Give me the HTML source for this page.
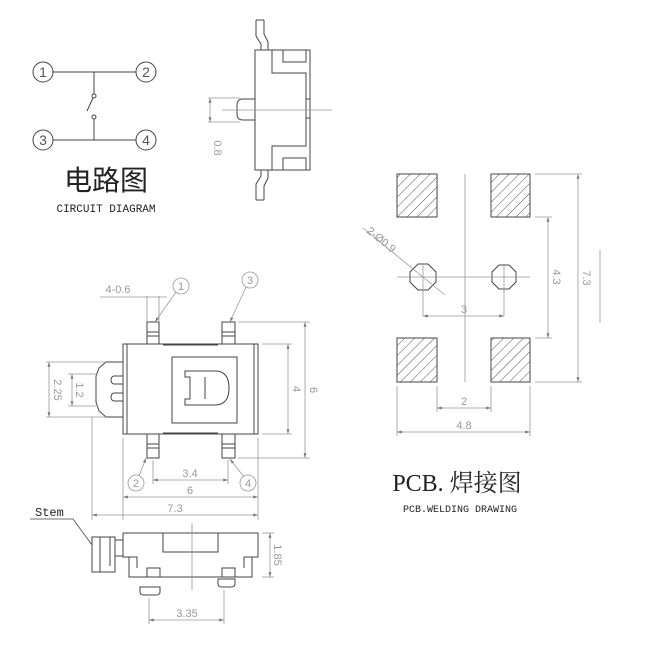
<!DOCTYPE html>
<html><head><meta charset="utf-8"><style>
html,body{margin:0;padding:0;background:#fff;}
svg{display:block}
.m{stroke:#444;stroke-width:1;fill:none}
.d{stroke:#999;stroke-width:.8;fill:none}
.t{font-family:"Liberation Sans",sans-serif;fill:#999;font-size:11px}
</style></head><body>
<svg width="650" height="650" viewBox="0 0 650 650" xmlns="http://www.w3.org/2000/svg">
<defs>
<pattern id="h" width="7" height="7" patternUnits="userSpaceOnUse" patternTransform="rotate(45)">
<line x1="0" y1="0" x2="0" y2="7" stroke="#555" stroke-width="1"/></pattern>
<marker id="a" viewBox="0 0 10 10" refX="10" refY="5" markerWidth="6" markerHeight="6" orient="auto-start-reverse"><path d="M0,2 L10,5 L0,8z" fill="#777"/></marker>
</defs>
<!-- circuit -->
<g class="m">
<circle cx="43" cy="72" r="10"/><circle cx="146" cy="72" r="10"/>
<circle cx="43" cy="140" r="10"/><circle cx="146" cy="140" r="10"/>
<line x1="53" y1="72" x2="136" y2="72"/><line x1="53" y1="140" x2="136" y2="140"/>
<line x1="94" y1="72" x2="94" y2="94"/><circle cx="94" cy="96" r="2"/>
<line x1="93" y1="98" x2="87" y2="111"/><circle cx="94" cy="117" r="2"/>
<line x1="94" y1="119" x2="94" y2="140"/>
</g>
<g font-family="Liberation Sans,sans-serif" font-size="14" fill="#555" text-anchor="middle">
<text x="43" y="77">1</text><text x="146" y="77">2</text><text x="43" y="145">3</text><text x="146" y="145">4</text>
</g>
<text x="106" y="190" font-family="'Noto Sans CJK SC',sans-serif" font-size="28" fill="#222" text-anchor="middle">电路图</text>
<text x="106" y="212" font-family="'Liberation Mono',monospace" font-size="11" fill="#222" text-anchor="middle">CIRCUIT DIAGRAM</text>
<!-- side view top -->
<g class="m">
<rect x="255" y="50" width="55" height="120"/>
<polyline points="272,50 272,73 306,73 306,146 272,146 272,170"/>
<rect x="283" y="50" width="23" height="12"/><rect x="283" y="158" width="23" height="12"/>
<line x1="306" y1="99" x2="310" y2="99"/><line x1="306" y1="118" x2="310" y2="118"/>
<polyline points="256,20 256,36 261,44 261,50"/><polyline points="264,20 264,34 268,42 268,50"/>
<line x1="256" y1="20" x2="264" y2="20"/>
<polyline points="256,200 256,184 261,176 261,170"/><polyline points="264,200 264,186 268,178 268,170"/>
<line x1="256" y1="200" x2="264" y2="200"/>
<path d="M255,99 H243 Q237,99 237,105 V114 Q237,120 243,120 H255"/>
</g>
<line class="d" x1="222" y1="110" x2="332" y2="110"/>
<line class="d" x1="208" y1="98" x2="240" y2="98"/><line class="d" x1="208" y1="122" x2="240" y2="122"/>
<line class="d" x1="210" y1="98" x2="210" y2="122" marker-start="url(#a)" marker-end="url(#a)"/>
<text class="t" transform="translate(214,148) rotate(90)" text-anchor="middle">0.8</text>
<!-- top view -->
<g class="m">
<rect x="123" y="344" width="135" height="90"/>
<rect x="172" y="357" width="65" height="66"/>
<path d="M185,371 H215 Q229,371 229,388 Q229,405 215,405 H185 V399 H190 V377 H185Z"/>
<line x1="205" y1="377" x2="205" y2="399"/>
<line x1="127" y1="344" x2="127" y2="434"/><line x1="254" y1="344" x2="254" y2="434"/>
<line x1="163" y1="345" x2="218" y2="345"/><line x1="163" y1="433" x2="218" y2="433"/>
<rect x="147" y="322" width="12" height="22"/><rect x="222" y="322" width="13" height="22"/>
<rect x="147" y="434" width="12" height="24"/><rect x="222" y="434" width="13" height="24"/>
<line x1="147" y1="332" x2="159" y2="332"/><line x1="147" y1="336" x2="159" y2="336"/>
<line x1="222" y1="332" x2="235" y2="332"/><line x1="222" y1="336" x2="235" y2="336"/>
<line x1="147" y1="444" x2="159" y2="444"/><line x1="147" y1="448" x2="159" y2="448"/>
<line x1="222" y1="444" x2="235" y2="444"/><line x1="222" y1="448" x2="235" y2="448"/>
<path d="M123,362 H106 L99,368 L96,376 V402 L99,411 L106,417 H123"/>
<path d="M123,376 H114 A3,4 0 0 0 114,384 H123"/><path d="M123,393 H114 A3,4 0 0 0 114,401 H123"/>
</g>
<!-- top view dims -->
<g class="d">
<line x1="147" y1="322" x2="147" y2="296"/><line x1="159" y1="322" x2="159" y2="296"/>
<line x1="100" y1="297" x2="167" y2="297"/>
<line x1="238" y1="322" x2="310" y2="322"/><line x1="238" y1="458" x2="310" y2="458"/>
<line x1="262" y1="344" x2="292" y2="344"/><line x1="262" y1="434" x2="292" y2="434"/>
<line x1="288" y1="344" x2="288" y2="434" marker-start="url(#a)" marker-end="url(#a)"/>
<line x1="305" y1="322" x2="305" y2="458" marker-start="url(#a)" marker-end="url(#a)"/>
<line x1="46" y1="362" x2="106" y2="362"/><line x1="46" y1="417" x2="106" y2="417"/>
<line x1="49" y1="362" x2="49" y2="417" marker-start="url(#a)" marker-end="url(#a)"/>
<line x1="68" y1="374" x2="96" y2="374"/><line x1="68" y1="406" x2="96" y2="406"/>
<line x1="72" y1="374" x2="72" y2="406" marker-start="url(#a)" marker-end="url(#a)"/>
<line x1="153" y1="460" x2="153" y2="484"/><line x1="228" y1="460" x2="228" y2="484"/>
<line x1="153" y1="480" x2="228" y2="480" marker-start="url(#a)" marker-end="url(#a)"/>
<line x1="123" y1="438" x2="123" y2="520"/><line x1="258" y1="438" x2="258" y2="520"/>
<line x1="123" y1="497" x2="258" y2="497" marker-start="url(#a)" marker-end="url(#a)"/>
<line x1="92" y1="417" x2="92" y2="520"/>
<line x1="92" y1="515" x2="258" y2="515" marker-start="url(#a)" marker-end="url(#a)"/>
<circle cx="181" cy="286" r="8"/><circle cx="250" cy="280" r="8"/>
<circle cx="136" cy="483" r="8"/><circle cx="248" cy="483" r="8"/>
<line x1="176" y1="292" x2="155" y2="322" marker-end="url(#a)"/>
<line x1="246" y1="287" x2="230" y2="322" marker-end="url(#a)"/>
<line x1="139" y1="476" x2="146" y2="458" marker-end="url(#a)"/>
<line x1="244" y1="477" x2="230" y2="459" marker-end="url(#a)"/>
</g>
<g class="t" text-anchor="middle">
<text x="118" y="293">4-0.6</text>
<text x="181" y="290">1</text><text x="250" y="284">3</text><text x="136" y="487">2</text><text x="248" y="487">4</text>
<text x="190" y="477">3.4</text><text x="190" y="494">6</text><text x="175" y="512">7.3</text>
</g>
<text class="t" transform="translate(293,389) rotate(90)" text-anchor="middle">4</text>
<text class="t" transform="translate(310,390) rotate(90)" text-anchor="middle">6</text>
<text class="t" transform="translate(54,390) rotate(90)" text-anchor="middle">2.25</text>
<text class="t" transform="translate(76,390) rotate(90)" text-anchor="middle">1.2</text>
<!-- bottom side -->
<text x="35" y="516" font-family="'Liberation Mono',monospace" font-size="12" fill="#222">Stem</text>
<polyline points="30,519 73,519 92,545" fill="none" stroke="#444" stroke-width=".8"/>
<g class="m">
<rect x="92" y="537" width="23" height="35"/>
<line x1="100" y1="537" x2="100" y2="572"/><line x1="110" y1="537" x2="110" y2="566"/>
<rect x="115" y="540" width="8" height="16"/>
<polyline points="123,533 258,533 258,557 252,557 252,577 129,577 129,557 123,557 123,533"/>
<polyline points="163,533 163,552 218,552 218,533"/>
<polyline points="129,557 137,557 137,568"/>
<polyline points="252,557 244,557 244,568"/>
<line x1="137" y1="568" x2="244" y2="568" stroke-opacity="0"/>
<rect x="147" y="568" width="13" height="9"/><rect x="222" y="568" width="13" height="9"/>
<path d="M140,587 H160 V592 Q160,595 156,595 H144 Q140,595 140,592Z"/>
<path d="M218,579 H235 V584 Q235,587 231,587 H222 Q218,587 218,584Z"/>
</g>
<g class="d">
<line x1="192" y1="523" x2="192" y2="590"/>
<line x1="262" y1="533" x2="274" y2="533"/><line x1="262" y1="577" x2="274" y2="577"/>
<line x1="270" y1="533" x2="270" y2="577" marker-start="url(#a)" marker-end="url(#a)"/>
<line x1="149" y1="598" x2="149" y2="624"/><line x1="224" y1="590" x2="224" y2="624"/>
<line x1="149" y1="620" x2="224" y2="620" marker-start="url(#a)" marker-end="url(#a)"/>
</g>
<text class="t" x="187" y="617" text-anchor="middle">3.35</text>
<text class="t" transform="translate(274,555) rotate(90)" text-anchor="middle">1.85</text>
<!-- PCB -->
<g stroke="#444" fill="url(#h)">
<rect x="397" y="174" width="40" height="43"/><rect x="491" y="174" width="39" height="43"/>
<rect x="397" y="338" width="40" height="44"/><rect x="491" y="338" width="39" height="44"/>
</g>
<g class="m">
<polygon points="418,264 428,264 436,272 436,282 428,290 418,290 410,282 410,272"/>
<polygon points="499,265 509,265 516,272 516,282 509,289 499,289 492,282 492,272"/>
</g>
<g class="d">
<line x1="465" y1="174" x2="465" y2="382"/>
<line x1="397" y1="277" x2="530" y2="277"/>
<line x1="423" y1="264" x2="423" y2="316"/><line x1="504" y1="264" x2="504" y2="316"/>
<line x1="423" y1="316" x2="504" y2="316" marker-start="url(#a)" marker-end="url(#a)"/>
<line x1="535" y1="174" x2="582" y2="174"/><line x1="535" y1="382" x2="582" y2="382"/>
<line x1="535" y1="217" x2="552" y2="217"/><line x1="535" y1="338" x2="552" y2="338"/>
<line x1="548" y1="217" x2="548" y2="338" marker-start="url(#a)" marker-end="url(#a)"/>
<line x1="578" y1="174" x2="578" y2="382" marker-start="url(#a)" marker-end="url(#a)"/>
<line x1="600" y1="250" x2="600" y2="323"/>
<line x1="437" y1="386" x2="437" y2="412"/><line x1="491" y1="386" x2="491" y2="412"/>
<line x1="437" y1="408" x2="491" y2="408" marker-start="url(#a)" marker-end="url(#a)"/>
<line x1="397" y1="386" x2="397" y2="436"/><line x1="530" y1="386" x2="530" y2="436"/>
<line x1="397" y1="432" x2="530" y2="432" marker-start="url(#a)" marker-end="url(#a)"/>
<line x1="363" y1="228" x2="445" y2="295"/>
</g>
<g class="t" text-anchor="middle">
<text x="464" y="313">3</text><text x="464" y="405">2</text><text x="464" y="429">4.8</text>
</g>
<text class="t" transform="translate(553,277) rotate(90)" text-anchor="middle">4.3</text>
<text class="t" transform="translate(583,278) rotate(90)" text-anchor="middle">7.3</text>
<text class="t" transform="translate(366,232) rotate(39)">2-Ø0.9</text>
<text x="457" y="491" font-family="'Liberation Serif','Noto Serif CJK SC',serif" font-size="24" fill="#222" text-anchor="middle">PCB. 焊接图</text>
<text x="460" y="512" font-family="'Liberation Mono',monospace" font-size="10" fill="#222" text-anchor="middle">PCB.WELDING DRAWING</text>
</svg>
</body></html>
